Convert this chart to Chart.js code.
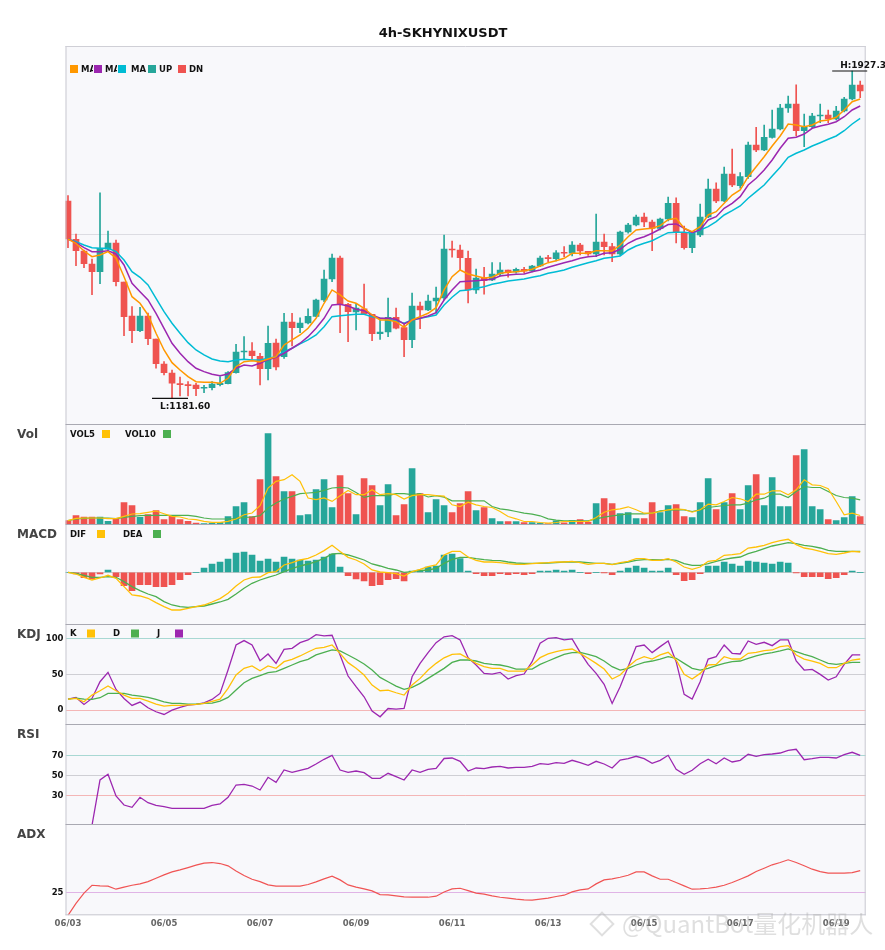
<!DOCTYPE html>
<html><head><meta charset="utf-8">
<script src="https://cdn.jsdelivr.net/npm/chart.js@4.4.1/dist/chart.umd.min.js"></script>
<style>
html,body{margin:0;padding:0;background:#fff;}
#wrap{position:relative;width:885px;height:950px;overflow:hidden;background:#fff;}
#wrap canvas{position:absolute;left:0;}
#wm{position:absolute;left:622px;top:905px;font-size:24px;font-family:'Noto Sans CJK SC','Noto Sans',sans-serif;color:rgba(175,175,175,0.4);white-space:nowrap;}
#logo{position:absolute;left:593px;top:915px;width:14px;height:14px;border:2px solid rgba(175,175,175,0.4);transform:rotate(45deg);}
</style></head><body>
<div id="wrap">
<canvas id="cMain" width="885" height="424" style="top:0px"></canvas>
<canvas id="cVol" width="885" height="100" style="top:424px"></canvas>
<canvas id="cMacd" width="885" height="100" style="top:524px"></canvas>
<canvas id="cKdj" width="885" height="100" style="top:624px"></canvas>
<canvas id="cRsi" width="885" height="100" style="top:724px"></canvas>
<canvas id="cAdx" width="885" height="126" style="top:824px"></canvas>
<div id="logo"></div>
<div id="wm">@QuantBot量化机器人</div>
</div>
<script>
// ---------------- data ----------------
const title = '4h-SKHYNIXUSDT';
const tickLabels = ['06/03','06/05','06/07','06/09','06/11','06/13','06/15','06/17','06/19'];
const tickIndex = [0,12,24,36,48,60,72,84,96];

const open = [1631.1,1543.9,1517.2,1487.6,1470.0,1521.1,1535.4,1446.6,1369.1,1335.6,
1369.1,1316.7,1259.8,1239.3,1214.9,1212.6,1211.9,1204.4,1205.8,1212.6,
1214.9,1239.9,1287.1,1289.4,1277.3,1249.0,1307.6,1276.4,1355.4,1342.5,
1353.2,1368.4,1405.6,1453.4,1501.3,1395.8,1378.2,1385.7,1373.0,1328.8,
1332.7,1366.1,1342.5,1315.1,1391.9,1382.8,1403.3,1410.1,1521.8,1519.5,
1500.6,1428.4,1455.7,1451.1,1464.8,1473.9,1469.4,1475.5,1471.7,1483.0,
1502.0,1499.7,1514.2,1512.0,1530.9,1516.5,1510.4,1537.7,1527.0,1510.4,
1560.5,1576.4,1594.7,1583.3,1568.9,1590.1,1625.9,1557.5,1524.7,1554.0,
1594.7,1658.5,1631.1,1692.6,1665.9,1686.5,1758.7,1747.3,1776.2,1795.2,
1843.0,1852.1,1791.3,1800.4,1824.8,1827.1,1817.9,1836.2,1863.5,1895.4];
const high = [1643.2,1555.9,1519.5,1499.0,1650.0,1562.8,1542.3,1446.6,1390.3,1388.9,
1376.0,1316.7,1265.0,1246.1,1230.1,1219.4,1215.8,1211.2,1219.4,1230.8,
1242.2,1304.6,1322.0,1308.3,1284.1,1346.3,1316.7,1375.3,1375.3,1365.2,
1385.7,1407.9,1473.9,1510.4,1505.8,1398.0,1398.0,1442.0,1373.0,1360.0,
1410.1,1387.3,1350.9,1421.5,1401.0,1417.0,1435.2,1553.7,1540.0,1530.9,
1517.2,1476.2,1480.1,1490.6,1490.6,1473.9,1478.5,1480.1,1484.6,1505.8,
1507.4,1517.9,1527.0,1538.4,1534.8,1516.5,1601.5,1555.9,1534.8,1562.8,
1580.3,1599.2,1603.8,1587.8,1592.4,1640.2,1638.6,1574.2,1558.9,1624.3,
1681.2,1672.8,1708.6,1749.6,1695.6,1765.5,1799.0,1804.3,1838.4,1851.4,
1870.3,1896.1,1829.3,1831.0,1852.1,1838.4,1846.9,1867.4,1927.3,1904.5];
const low = [1524.7,1483.7,1479.2,1417.6,1442.7,1517.9,1437.5,1324.2,1308.3,1333.3,
1303.7,1250.0,1234.7,1181.6,1186.9,1186.9,1187.5,1194.4,1200.5,1209.6,
1214.2,1238.6,1271.1,1270.5,1211.9,1223.3,1246.1,1272.7,1300.8,1331.1,
1350.9,1367.5,1401.7,1447.3,1331.1,1310.6,1337.2,1373.0,1312.8,1316.0,
1322.0,1339.5,1276.4,1296.9,1340.2,1381.2,1375.3,1405.6,1502.9,1473.9,
1398.7,1420.8,1418.6,1449.5,1460.2,1457.3,1466.4,1466.4,1469.4,1481.4,
1492.8,1494.4,1504.2,1505.8,1508.1,1507.4,1504.2,1508.1,1492.8,1507.4,
1558.1,1574.2,1572.6,1517.9,1565.0,1585.5,1535.4,1521.1,1513.3,1549.8,
1593.1,1627.2,1629.5,1663.7,1660.1,1682.8,1743.4,1745.7,1774.0,1792.9,
1833.2,1779.2,1754.8,1796.8,1809.5,1809.5,1815.7,1833.9,1861.2,1866.5];
const close = [1544.5,1517.9,1488.3,1470.0,1523.4,1535.4,1447.3,1367.5,1335.6,1369.1,
1317.4,1260.4,1239.9,1215.8,1212.6,1210.3,1203.5,1206.7,1214.2,1215.8,
1239.9,1287.1,1289.4,1278.7,1249.0,1306.9,1252.9,1355.4,1342.5,1353.2,
1368.4,1405.6,1453.4,1501.3,1395.8,1378.9,1387.3,1374.3,1328.8,1332.7,
1366.1,1341.1,1315.1,1391.9,1382.8,1403.3,1410.1,1521.8,1519.5,1501.9,
1428.4,1455.7,1449.5,1464.8,1473.9,1467.8,1475.5,1471.0,1483.0,1501.3,
1499.7,1513.3,1512.0,1530.9,1517.2,1510.4,1537.7,1527.0,1510.4,1560.5,
1576.4,1594.7,1583.3,1568.9,1590.1,1625.9,1559.8,1524.7,1557.5,1594.7,
1658.5,1631.1,1692.6,1667.6,1686.5,1758.7,1747.3,1776.2,1795.2,1843.0,
1852.1,1791.3,1800.4,1824.8,1827.1,1817.9,1836.2,1863.5,1895.4,1881.7];

const ma5 = [1544.6,1534.8,1517.2,1504.3,1508.1,1515.7,1500.6,1458.7,1413.1,1398.1,
1371.4,1329.7,1291.7,1262.8,1246.1,1230.9,1219.5,1218.1,1218.1,1215.8,
1227.2,1253.6,1265.0,1267.3,1265.0,1271.2,1276.4,1303.1,1314.5,1325.9,
1341.1,1363.9,1398.1,1428.4,1417.0,1403.3,1398.1,1386.7,1371.4,1360.0,
1360.0,1356.2,1343.4,1360.0,1367.6,1375.3,1388.1,1428.4,1458.7,1474.0,
1464.8,1460.3,1455.7,1457.3,1466.4,1468.7,1470.1,1472.4,1475.6,1483.1,
1490.6,1495.1,1500.6,1512.0,1512.0,1512.0,1517.9,1517.9,1517.2,1530.9,
1549.8,1565.1,1567.4,1569.0,1574.9,1588.6,1591.7,1569.0,1561.2,1572.6,
1599.3,1606.8,1625.9,1644.8,1656.2,1686.5,1709.3,1732.1,1756.5,1779.3,
1806.6,1804.3,1800.4,1804.3,1813.4,1815.7,1821.9,1838.5,1857.4,1863.5];
const ma10 = [1544.6,1536.2,1524.8,1515.7,1515.7,1517.9,1510.4,1485.4,1443.6,1424.5,
1405.6,1375.3,1341.1,1307.0,1284.2,1265.0,1250.0,1242.3,1236.3,1233.1,
1237.0,1250.0,1257.5,1255.2,1261.4,1269.6,1275.1,1284.2,1295.6,1307.0,
1322.0,1341.1,1363.9,1394.2,1395.8,1391.9,1384.4,1381.2,1371.4,1363.9,
1363.9,1361.6,1350.9,1360.0,1363.9,1369.2,1376.7,1405.6,1428.4,1447.3,
1448.4,1449.6,1451.2,1452.8,1460.3,1462.6,1464.2,1464.8,1470.1,1474.0,
1480.1,1485.4,1490.6,1495.1,1500.6,1504.3,1505.9,1512.0,1513.4,1521.1,
1534.8,1543.9,1549.8,1557.6,1567.4,1577.6,1578.8,1569.0,1558.9,1565.1,
1587.9,1595.4,1614.5,1625.9,1641.0,1667.6,1682.9,1701.8,1724.6,1751.2,
1774.0,1776.3,1783.8,1796.8,1802.0,1805.9,1811.8,1823.2,1838.5,1847.6];
const ma20 = [1544.6,1538.4,1530.9,1524.8,1523.4,1523.4,1515.7,1496.7,1470.1,1457.3,
1439.8,1409.5,1379.0,1352.5,1329.7,1308.3,1291.7,1280.3,1271.2,1266.6,
1265.0,1268.9,1270.5,1268.9,1268.9,1272.8,1276.4,1287.8,1295.6,1305.4,
1314.5,1325.9,1344.8,1367.6,1369.8,1371.4,1373.0,1373.0,1367.6,1363.9,
1361.6,1358.5,1352.5,1360.0,1363.9,1367.6,1371.4,1394.2,1411.8,1426.8,
1428.4,1432.3,1435.9,1441.4,1445.0,1448.9,1451.2,1453.5,1457.3,1461.0,
1466.4,1470.1,1474.0,1480.1,1485.4,1490.6,1495.1,1500.6,1502.9,1505.9,
1519.5,1528.6,1534.8,1540.7,1549.8,1558.9,1559.8,1559.8,1557.6,1565.1,
1572.6,1584.0,1599.3,1609.1,1619.8,1637.3,1652.4,1667.6,1688.1,1707.9,
1730.7,1739.8,1747.4,1756.5,1764.0,1771.7,1779.3,1791.3,1806.6,1819.6];

const volume = [3.3,8.3,7,7,7,2.6,5.3,21.3,18.3,6.6,
9.3,13.3,4.3,8.3,4.3,2.6,1,0.5,0.8,1.6,
7.3,17.3,21.3,7.3,44.3,90.3,47.3,32.3,32.3,8.3,
9.3,34.3,44.3,16.3,48.3,30.3,9.3,45.3,38.3,18.3,
39.3,8.3,19.3,55.3,30.3,11.3,24.3,18.4,11.5,20.5,
32.5,13.5,16.5,5.5,2.5,2.5,2.5,1.5,1.5,0.8,
0.5,3.2,1.2,3.5,4.5,1.8,20.5,25.5,20.5,10.5,
11.5,5.5,5.5,21.5,11.5,18.5,19.5,7.5,6.5,21.5,
45.5,14.5,21.5,30.5,14.5,38.5,49.5,18.5,46.5,17.5,
17.5,68.5,74.5,17.5,14.5,4.5,3.5,6.5,27.5,7.5];
const vol5 = [3.3,5.6,6,6,6,5.3,5.3,7.6,10,10.3,
11.6,13,10.3,7.6,7,5,4.3,2.6,1.6,1.6,
2.6,5,9.3,11,18.3,36,42.6,44.3,49.3,42.6,
26,24.3,26,22.6,28.3,33.6,29.3,29.3,34.3,29.3,
30.3,29.3,25,28.3,29.3,29.3,28.3,27.8,19.2,17.5,
21.8,19.2,17.5,16.5,12.5,7.5,5.2,2.5,2.5,1.5,
0.8,1.5,2.5,2.5,2.5,2.5,6.5,11.8,14.2,15.2,
17.2,14.2,10.8,10.8,12.5,14.2,15.2,14.5,11.8,14.2,
19.8,19.2,22.5,26.5,25.2,22.5,29.8,29.8,33.2,33.2,
29.2,34.2,44.2,39.2,38.5,35.2,22.5,9.2,10.8,8.5];
const vol10 = [3.3,5,5.6,6,6,6,5.3,6.6,7.6,8.3,
8.6,8.6,8.6,8.6,8.6,8.6,7.6,6,5,5,
5,5.3,6.6,7,8.3,16,21,25,27.6,30.3,
31,31.6,33.6,36,36.6,36,31.6,26.6,28.3,28.3,
28.3,30.3,30.3,29.3,30.3,27,28.3,26.8,23.2,23.2,
23.2,23.2,23.2,17.5,15.2,14.2,12.5,10.8,9.8,8.2,
5.2,3.8,3.2,3.2,3.2,3.2,5.2,6.8,8.2,9.2,
10.2,10.2,10.2,10.8,13.2,13.8,14.2,14.2,12.5,14.2,
16.5,17.5,18.5,19.2,19.2,20.8,24.2,25.8,29.8,29.8,
26.5,32.5,37.5,36.5,36.5,32.5,28.5,26.5,25.8,24.2];

const dif = [0,-1.7,-5,-7.7,-5.7,-3,-6,-14.3,-22.7,-23.7,
-26,-30.3,-34.3,-37.7,-37.7,-36,-34.3,-32.7,-29.7,-26.3,
-21,-13.7,-7.7,-5,-4.7,-0.3,0.7,7.3,9.7,12.3,
14,17.3,21.7,27,20.7,15,12.3,8.3,2.3,0.3,
-0.3,-1.3,-3.7,0.7,3,5.7,7.3,17.2,21,21,
15.3,12,10.3,10.3,9.7,8.7,8,8,8.7,9.3,
9.7,10.3,10.3,11,9.7,8,9,9,7.7,9.7,
11,13.7,13.7,12,12,13.7,10.3,5.3,3,5.3,
11,12,17,17.7,18.7,24.3,25.3,27,29.7,31.7,
33,27.7,24.3,23,21,18.7,18,19.3,21,20.3];
const dea = [0,-1,-3,-5,-5,-4.3,-5,-9.3,-14.3,-18.3,
-21.7,-24.3,-29.3,-32.7,-34.3,-35,-34.3,-33.7,-31.7,-29.7,
-27,-21.7,-16,-11,-7.7,-5,-2.7,0.7,3.7,6.3,
8.3,10.7,14,18.3,19,17.3,15,12.3,8.3,6.3,
4,2.3,0,0.7,1.7,2.3,4,9,13,15,
15,13.7,12.7,12,11.7,10.3,9.3,9,9,9,
9.3,9.7,10.3,10.3,10.3,9.7,9,9,8,9,
10.3,12,12.7,12.7,12.3,13,12,8.7,7,7,
8.7,11,13,14.3,15.3,18.7,21,23.7,26.3,28,
29.7,28.7,27,26,24.3,22,21,21,21,21];
const macdHist = [0,-1.7,-5.3,-6.7,-1.7,2.3,-4.3,-13.3,-18.3,-12.3,
-12.3,-14.3,-14.3,-12.3,-7.3,-2.3,0,4.3,8.3,10.3,
13.3,19.3,20.3,17.3,11.3,13.3,10.3,15.3,13.3,12.3,
11.3,12.3,15.3,18.3,5.3,-3.3,-6.7,-8.7,-13.3,-12.3,
-7.3,-6.3,-8.7,1.3,2.3,5.3,6.3,17.3,18.3,13.7,
1.3,-1.3,-3.3,-3.3,-1.3,-2.3,-1.3,-2.3,-1.3,1.3,
1.3,2.3,1.3,2.3,0,-1.3,0,-0.3,-2.3,1.3,
4.3,6.3,4.3,1.3,1.3,4.3,-2.3,-8.3,-7.3,-1.3,
6.3,6.3,10.3,8.3,6.3,11.3,10.3,9.3,8.3,10.3,
9.3,-0.3,-4.3,-4.3,-4.3,-6.3,-5.3,-2.3,1.3,0];

const kLine = [15.5,16.4,11.7,21.1,27.2,33.8,27.2,21.1,16.4,16.4,
12.7,8.5,5.6,6.6,6.6,7.5,8,9.4,12.2,15.5,
30.5,49.3,58.7,62,55.4,62,58.7,68.1,71.4,76.1,
81.7,86.9,88.3,91.5,79.8,66.7,58.7,49.3,35.2,27.2,
28.2,24.4,21.1,35.2,44.6,56.3,65.7,73.5,78.4,78.9,
72.8,65.7,61,58.7,58.7,54.9,54.9,54.9,63.4,73.7,
78.9,82.2,84.5,85.9,79.8,72.8,65.7,57.7,43.7,49.3,
61,70.4,75.1,71.8,77.5,81.2,70.4,50.2,43.7,51.6,
63.4,64.3,75.1,71.8,71.8,79.8,81.2,83.6,84.5,89.2,
90.6,77.5,71.8,69,65.7,59.6,59.6,65.7,70.4,71.8];
const dLine = [15.5,16.9,15.5,15,17.4,23.5,23.5,23.5,21.1,19.7,
17.8,15,11.7,9.4,9.4,8.5,8.5,9.4,9.9,12.7,
17.8,28.2,38.5,44.6,48.4,52.6,54,58.7,63.4,68.1,
71.4,77.5,81.2,84.5,83.1,77.5,71.4,64.8,56.3,46,
39.9,33.8,29.1,31.9,37.6,44.6,51.6,58.7,67.1,70.4,
70.4,69,65.7,64.3,63.4,61,57.7,57.7,57.7,64.3,
69,73.7,78.4,80.8,81.2,78.4,75.1,69,61,56.3,
58.7,63.4,67.1,69,71.8,75.1,72.8,65.7,58.7,56.3,
58.7,62.4,65.7,68.1,69,72.8,76.1,78.9,80.8,83.1,
85.9,82.2,78.4,75.1,70.4,65.7,64.3,65.7,67.1,67.1];
const jLine = [15.5,17.8,8,16.4,39.9,53.1,29.1,16.4,6.6,11.3,
3.3,-2.3,-6.1,0,3.8,7,8,10.3,15,23.5,
56.3,91.5,97.7,91.5,69.5,78.9,65.7,85.4,86.9,94.8,
98.6,106.1,104.2,105.2,77.5,47.9,32.9,18.8,-1.4,-9.4,
2.3,1.4,2.3,46.9,65.7,80.8,94.8,103,104.7,98.6,
73.7,63.4,51.6,50.7,53.1,43.7,48.4,50.7,68.1,93.9,
100.9,101.9,98.6,100,81.2,64.3,51.6,36.2,9.4,32.9,
61,89.2,91.5,80.8,89.2,97.2,68.1,22.1,15.5,39.9,
71.8,75.1,91.5,79.8,78.9,97.2,92.5,95.3,90.6,98.6,
98.6,69,56.3,57.3,50.2,42.3,46.9,64.3,77.5,77.5];

const rsi = [null,null,null,0,45.3,51,29.3,20.3,18,28,
22.6,20,18.6,17,17,17,17,17,20,21.3,
28,40.3,41,39.3,35.3,48,43,55.3,53,55,
57,61.3,66,70,55.3,53,54.3,52.6,47,47,
52,48.6,45.3,55.3,53,56,57,66.8,67.3,64,
54.3,57.3,56.6,58.3,59,57.3,58,58,59,61.6,
61,62.6,62,65,62.6,60,64,61.3,57.3,65.3,
66.6,69,66.6,62,65,70,56,51,55,61.6,
66,61.6,67.3,63.3,65,71,69,70.6,71.3,72.3,
75,76,65.6,66.6,68,68,67.3,70.6,73,70];
const adx = [0,13.1,24.3,32.9,32.2,31.9,28.6,30.8,32.9,34.4,
36.9,40.6,44.3,47.6,49.8,52.3,54.9,57.1,57.8,56.7,
54.2,48.6,43.5,39.5,36.9,33.3,31.9,31.9,31.9,31.9,
33.7,36.6,39.9,42.8,38.8,33.3,30.8,28.9,26.7,22.7,
22.3,21.2,20.1,19.8,19.8,19.8,20.9,25.5,28.9,29.6,
27.1,24.3,23.1,21.3,19.8,18.8,17.7,17,16.6,17.7,
18.8,20.6,22,25.6,27.8,28.9,34.4,38.8,39.9,41.7,
43.9,47.6,47.6,43.2,39.5,39.5,35.9,32.2,28.6,28.9,
29.6,30.8,32.9,35.9,39.5,43.2,47.9,51.6,55.3,57.8,
60.8,57.8,54.2,50.5,47.9,46.1,46.1,46.1,46.8,49];

// ---------------- style ----------------
const FONT = "'DejaVu Sans', sans-serif";
const C_UP = '#26a69a', C_DN = '#ef5350';
const C_MA5 = '#ff9800', C_MA10 = '#9c27b0', C_MA20 = '#00bcd4';
const C_Y = '#ffc107', C_G = '#4caf50', C_P = '#9c27b0', C_ADX = '#f05454';
const AREA_LEFT = 65.5, PAD_RIGHT = 19.3;
const X_MIN = -0.3125, X_MAX = 99.6875;

const isUp = close.map((c, i) => c >= open[i]);
const candleColor = isUp.map(u => u ? C_UP : C_DN);
const pts = arr => arr.map((v, i) => ({x: i, y: v}));

function xScale(show) {
  const s = {
    type: 'linear', min: X_MIN, max: X_MAX, offset: false, display: show,
    afterFit: sc => { sc.paddingLeft = 0; sc.paddingRight = 0; sc.paddingTop = 0; sc.paddingBottom = 0; },
    grid: {display: false, drawTicks: false, offset: false},
    border: {display: false},
    ticks: {autoSkip: false, maxRotation: 0, padding: 3, color: '#666',
      font: {family: FONT, size: 8.5, weight: 'bold'},
      callback: v => { const k = tickIndex.indexOf(v); return k >= 0 ? tickLabels[k] : ''; }}
  };
  if (show) s.afterBuildTicks = sc => { sc.ticks = tickIndex.map(v => ({value: v})); };
  return s;
}
function yScale(min, max, lines, showLabels) {
  const s = {
    type: 'linear', min: min, max: max, position: 'left',
    afterFit: sc => { sc.width = AREA_LEFT; sc.paddingTop = 0; sc.paddingBottom = 0; sc.paddingLeft = 0; sc.paddingRight = 0; },
    border: {display: false},
    grid: {display: lines.length > 0, drawTicks: false, lineWidth: 1,
      color: ctx => { const l = lines.find(q => ctx.tick && q.v === ctx.tick.value); return l ? l.c : 'rgba(0,0,0,0)'; }},
    ticks: {display: showLabels, padding: 2, color: '#111',
      font: {family: FONT, size: 8.5, weight: 'bold'},
      callback: v => String(v)}
  };
  if (lines.length) s.afterBuildTicks = sc => { sc.ticks = lines.map(l => ({value: l.v})); };
  return s;
}

const panelPlugin = {
  id: 'panel',
  beforeDraw(chart, args, o) {
    const {ctx, chartArea: a} = chart;
    ctx.save();
    ctx.fillStyle = '#f8f8fb';
    ctx.fillRect(a.left, a.top, a.right - a.left, a.bottom - a.top);
    ctx.restore();
  },
  afterDraw(chart, args, o) {
    const {ctx, chartArea: a} = chart;
    ctx.save();
    ctx.lineWidth = 1;
    ctx.strokeStyle = '#c8c8d0';
    ctx.beginPath();
    ctx.moveTo(a.left + 0.5, a.top); ctx.lineTo(a.left + 0.5, a.bottom);
    ctx.moveTo(a.right - 0.5, a.top); ctx.lineTo(a.right - 0.5, a.bottom);
    if (o.bottomLine) { ctx.moveTo(a.left, a.bottom - 0.5); ctx.lineTo(a.right, a.bottom - 0.5); }
    ctx.stroke();
    ctx.strokeStyle = o.topColor || '#a9a9b2';
    ctx.beginPath(); ctx.moveTo(a.left, a.top + 0.5); ctx.lineTo(a.right, a.top + 0.5); ctx.stroke();
    if (o.label) {
      ctx.fillStyle = '#444';
      ctx.font = 'bold 12px ' + FONT;
      ctx.textBaseline = 'middle'; ctx.textAlign = 'left';
      ctx.fillText(o.label, 17, a.top + 11);
    }
    if (o.title) {
      ctx.fillStyle = '#111';
      ctx.font = 'bold 13px ' + FONT;
      ctx.textBaseline = 'middle'; ctx.textAlign = 'center';
      ctx.fillText(o.title, 443, 34);
    }
    if (o.legend) {
      const y = a.top + o.legendY;
      ctx.font = 'bold 8.5px ' + FONT;
      ctx.textBaseline = 'middle'; ctx.textAlign = 'left';
      o.legend.forEach(it => {
        ctx.fillStyle = it.color;
        ctx.fillRect(it.boxX, y - 4, 8, 8);
        ctx.save();
        if (it.clipX) { ctx.beginPath(); ctx.rect(it.textX - 2, y - 10, it.clipX - it.textX + 2, 20); ctx.clip(); }
        ctx.fillStyle = '#111';
        ctx.fillText(it.label, it.textX, y + 0.5);
        ctx.restore();
      });
    }
    ctx.restore();
  }
};

const hlPlugin = {
  id: 'hl',
  afterDraw(chart) {
    const xs = chart.scales.x, ys = chart.scales.y, ctx = chart.ctx;
    let hi = 0, lo = 0;
    high.forEach((v, i) => { if (v > high[hi]) hi = i; });
    low.forEach((v, i) => { if (v < low[lo]) lo = i; });
    ctx.save();
    ctx.strokeStyle = '#111'; ctx.fillStyle = '#111'; ctx.lineWidth = 1.2;
    ctx.font = 'bold 9px ' + FONT; ctx.textAlign = 'left';
    let x = xs.getPixelForValue(hi), y = ys.getPixelForValue(high[hi]);
    ctx.beginPath(); ctx.moveTo(x - 20, y); ctx.lineTo(x + 15, y); ctx.stroke();
    ctx.textBaseline = 'alphabetic';
    ctx.fillText('H:' + high[hi].toFixed(2), x - 12, y - 3);
    x = xs.getPixelForValue(lo); y = ys.getPixelForValue(low[lo]);
    ctx.beginPath(); ctx.moveTo(x - 20, y); ctx.lineTo(x + 16, y); ctx.stroke();
    ctx.textBaseline = 'top';
    ctx.fillText('L:' + low[lo].toFixed(2), x - 12, y + 4);
    ctx.restore();
  }
};

function baseOptions(scales, panelOpts, padBottom, padTop) {
  return {
    responsive: false, animation: false, events: [],
    layout: {padding: {left: 0, right: PAD_RIGHT, top: padTop || 0, bottom: padBottom || 0}},
    scales: scales,
    plugins: {legend: {display: false}, tooltip: {enabled: false}, title: {display: false}, panel: panelOpts}
  };
}
function lineDs(data, color, width) {
  return {type: 'line', data: pts(data), borderColor: color, borderWidth: width || 1.3,
    pointRadius: 0, tension: 0, fill: false, order: 0, spanGaps: false};
}

// ---------------- main candles ----------------
new Chart(document.getElementById('cMain'), {
  type: 'bar',
  data: {datasets: [
    lineDs(ma5, C_MA5, 1.5), lineDs(ma10, C_MA10, 1.5), lineDs(ma20, C_MA20, 1.5),
    {type: 'bar', data: open.map((o, i) => ({x: i, y: [o, close[i]]})), backgroundColor: candleColor,
      barThickness: 6, grouped: false, minBarLength: 1, order: 1, borderWidth: 0},
    {type: 'bar', data: low.map((l, i) => ({x: i, y: [l, high[i]]})), backgroundColor: candleColor,
      barThickness: 1, grouped: false, order: 2, borderWidth: 0}
  ]},
  options: baseOptions({x: xScale(false), y: yScale(1123, 1984.3, [{v: 1553.65, c: '#dcdce2'}], false)},
    {topColor: '#cfcfd6', title: title, legendY: 23, legend: [
      {label: 'MA5', color: C_MA5, boxX: 70, textX: 81, clipX: 93},
      {label: 'MA10', color: C_MA10, boxX: 94, textX: 105, clipX: 117},
      {label: 'MA20', color: C_MA20, boxX: 118, textX: 131, clipX: 146},
      {label: 'UP', color: C_UP, boxX: 148, textX: 159},
      {label: 'DN', color: C_DN, boxX: 178, textX: 189}
    ]}, 0, 46),
  plugins: [panelPlugin, hlPlugin]
});

// ---------------- volume ----------------
new Chart(document.getElementById('cVol'), {
  type: 'bar',
  data: {datasets: [
    lineDs(vol5, C_Y, 1.2), lineDs(vol10, C_G, 1.2),
    {type: 'bar', data: pts(volume), backgroundColor: candleColor, barThickness: 6, grouped: false, order: 1, borderWidth: 0}
  ]},
  options: baseOptions({x: xScale(false), y: yScale(0, 100, [], false)},
    {label: 'Vol', legendY: 10, legend: [
      {label: 'VOL5', color: C_Y, boxX: 102, textX: 70},
      {label: 'VOL10', color: C_G, boxX: 163, textX: 125}
    ]}),
  plugins: [panelPlugin]
});

// ---------------- MACD ----------------
new Chart(document.getElementById('cMacd'), {
  type: 'bar',
  data: {datasets: [
    lineDs(dif, C_Y, 1.3), lineDs(dea, C_G, 1.3),
    {type: 'bar', data: pts(macdHist), backgroundColor: macdHist.map(v => v >= 0 ? C_UP : C_DN),
      barThickness: 6, grouped: false, order: 1, borderWidth: 0}
  ]},
  options: baseOptions({x: xScale(false), y: yScale(-51.7, 48.3, [{v: 0, c: '#cccccc'}], false)},
    {label: 'MACD', legendY: 10, legend: [
      {label: 'DIF', color: C_Y, boxX: 97, textX: 70},
      {label: 'DEA', color: C_G, boxX: 153, textX: 123}
    ]}),
  plugins: [panelPlugin]
});

// ---------------- KDJ ----------------
new Chart(document.getElementById('cKdj'), {
  type: 'line',
  data: {datasets: [lineDs(kLine, C_Y, 1.3), lineDs(dLine, C_G, 1.3), lineDs(jLine, C_P, 1.3)]},
  options: baseOptions({x: xScale(false), y: yScale(-19.5, 121,
      [{v: 0, c: '#f4b6b6'}, {v: 50, c: '#cfcfd4'}, {v: 100, c: '#a8d8d3'}], true)},
    {label: 'KDJ', legendY: 9.5, legend: [
      {label: 'K', color: C_Y, boxX: 87, textX: 70},
      {label: 'D', color: C_G, boxX: 131, textX: 113},
      {label: 'J', color: C_P, boxX: 175, textX: 157}
    ]}),
  plugins: [panelPlugin]
});

// ---------------- RSI ----------------
new Chart(document.getElementById('cRsi'), {
  type: 'line',
  data: {datasets: [lineDs(rsi, C_P, 1.3)]},
  options: baseOptions({x: xScale(false), y: yScale(1.3, 101.3,
      [{v: 30, c: '#f4b6b6'}, {v: 50, c: '#cfcfd4'}, {v: 70, c: '#a8d8d3'}], true)},
    {label: 'RSI'}),
  plugins: [panelPlugin]
});

// ---------------- ADX ----------------
new Chart(document.getElementById('cAdx'), {
  type: 'line',
  data: {datasets: [lineDs(adx, C_ADX, 1.2)]},
  options: baseOptions({x: xScale(true), y: yScale(0, 100, [{v: 25, c: '#e0b4e6'}], true)},
    {label: 'ADX', bottomLine: true}, 18.5),
  plugins: [panelPlugin]
});
</script>
</body></html>
